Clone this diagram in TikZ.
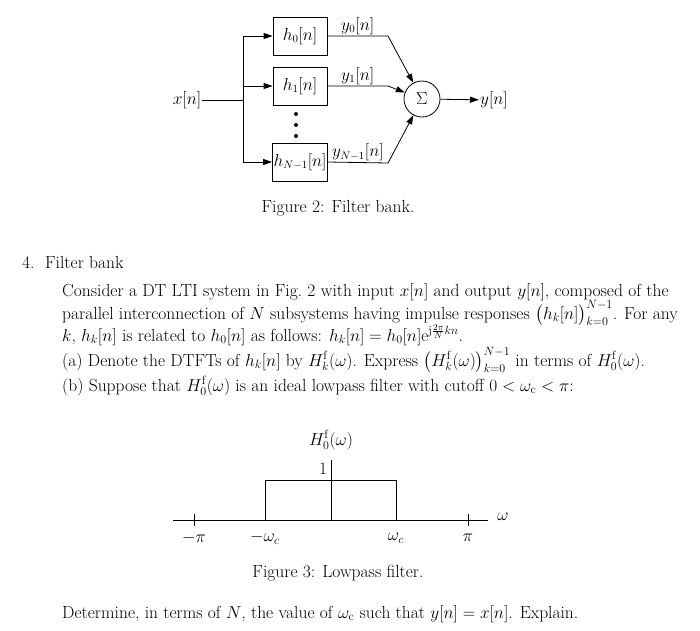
\documentclass[tikz,border=0pt]{standalone}
\usepackage{amsmath}
\usetikzlibrary{arrows.meta,positioning}
\tikzset{
  block/.style={draw,thick,minimum width=54pt,minimum height=38pt,inner sep=1pt},
  sumnode/.style={draw,thick,circle,minimum size=36pt,inner sep=0pt},
  sig/.style={thick,-{Triangle[length=9pt,width=6pt]}},
  txt/.style={anchor=base west,inner sep=0pt},
  plain/.style={inner sep=1pt}
}
\begin{document}
\begin{tikzpicture}[x=1pt,y=-1pt,font=\fontsize{17.5}{20}\selectfont]
	\useasboundingbox (0,0) rectangle (700,630);
	
	% the filter bank
	\begin{scope}[font=\fontsize{16}{18}\selectfont]
	\node[block] (h0) at (300,36) {$h_0[n]$};
	\node[block] (h1) at (300,86) {$h_1[n]$};
	\node[block] (hN) at (300,162) {$h_{N-1}[n]$};
	\node[sumnode] (sum) at (422,99) {$\Sigma$};
	\node[plain] (x) at (187,100) {$x[n]$};
	\node[plain] (y) at (494,100) {$y[n]$};
	\coordinate (br) at (243,100);
	\coordinate (k0) at (388,36);
	\coordinate (k1) at (388,86);
	\coordinate (kN) at (388,163);
	\foreach \yy in {114,125,136}
		\fill (296,\yy) circle (2pt);
	
	\draw[thick] (x) -- (br);
	\foreach \b in {h0,h1,hN}
		\draw[sig] (br) |- (\b);
	\draw[sig] (h0) -- node[above,plain] {$y_0[n]$} (k0) -- (sum);
	\draw[sig] (h1) -- node[above,plain] {$y_1[n]$} (k1) -- (sum);
	\draw[sig] (hN.east) -- node[above,plain] {$y_{N-1}[n]$} (kN) -- (sum);
	\draw[sig] (sum) -- (y);
	\end{scope}
	\node (cap2) at (338,208) {Figure 2: Filter bank.};
	
	% the problem text
	\node[txt] (t0) at (22,268) {4.\ \ Filter bank};
	\node[txt] (t1) at (62,296)
		{Consider a DT LTI system in Fig.~2 with input $x[n]$ and output $y[n]$, composed of the};
	\node[txt] (t2) at (62,319)
		{parallel interconnection of $N$ subsystems having impulse responses $\big(h_k[n]\big)_{k=0}^{N-1}$. For any};
	\node[txt] (t3) at (62,341)
		{$k$, $h_k[n]$ is related to $h_0[n]$ as follows: $h_k[n]=h_0[n]\mathrm{e}^{\mathrm{j}\frac{2\pi}{N}kn}$.};
	\node[txt] (ta) at (62,366)
		{(a)\ Denote the DTFTs of $h_k[n]$ by $H_k^{\mathrm f}(\omega)$. Express $\big(H_k^{\mathrm f}(\omega)\big)_{k=0}^{N-1}$ in terms of $H_0^{\mathrm f}(\omega)$.};
	\node[txt] (tb) at (62,391)
		{(b)\ Suppose that $H_0^{\mathrm f}(\omega)$ is an ideal lowpass filter with cutoff $0<\omega_{\mathrm c}<\pi$:};
	
	% the lowpass plot
	\coordinate (axl) at (173,520);
	\coordinate (axr) at (488,520);
	\coordinate (o) at (331,520);
	\coordinate (otop) at (331,460);
	\draw[thick] (axl) -- (axr);
	\draw[thick] (o) -- (otop);
	\draw[thick] (265,520) |- (396,480) -- (396,520);
	\foreach \xx in {194,468}
		\draw[thick] (\xx,514) -- (\xx,526);
	\begin{scope}[font=\fontsize{17}{19}\selectfont]
	\node[plain] (w) at (503,517) {$\omega$};
	\node[plain] (mpi) at (194,538) {$-\pi$};
	\node[plain] (pi) at (468,538) {$\pi$};
	\node[plain] (mwc) at (265,538) {$-\omega_c$};
	\node[plain] (wc) at (396,538) {$\omega_c$};
	\node[plain] (one) at (323,469) {$1$};
	\node[plain] (H) at (331,440) {$H_0^{\mathrm f}(\omega)$};
	\end{scope}
	\node (cap3) at (338,573) {Figure 3: Lowpass filter.};
	\node[txt] (tend) at (62,618)
		{Determine, in terms of $N$, the value of $\omega_{\mathrm c}$ such that $y[n]=x[n]$. Explain.};
\end{tikzpicture}
\end{document}
